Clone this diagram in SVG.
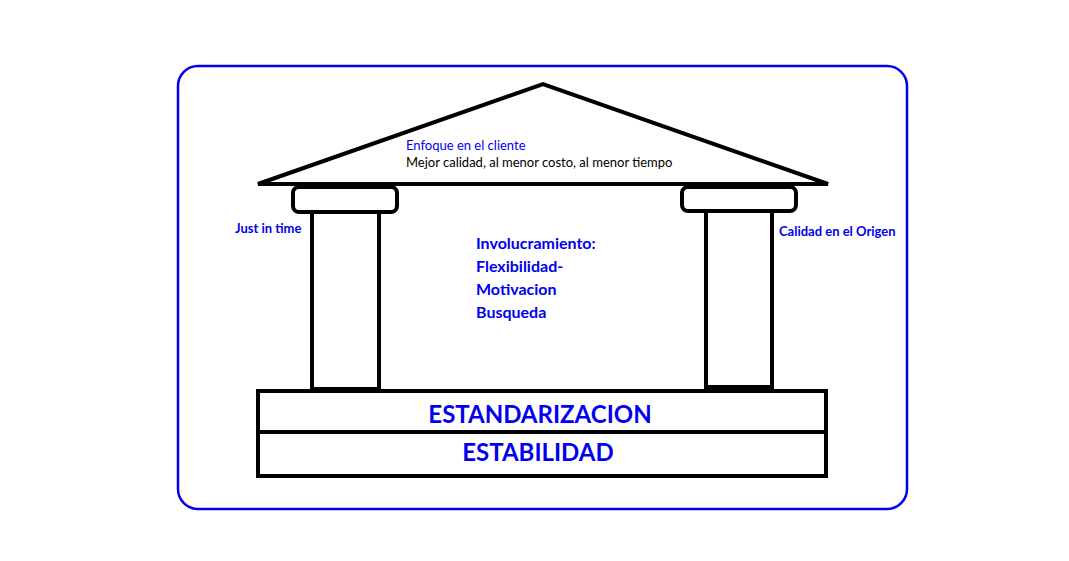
<svg xmlns="http://www.w3.org/2000/svg" width="1069" height="561" viewBox="0 0 1069 561">
<style>
.s{fill:none;stroke:#000;stroke-width:4}
.b{fill:#0000ee;font-family:Lato,"Liberation Sans",sans-serif}
.bb{fill:#0000ee;font-family:Lato,"Liberation Sans",sans-serif;font-weight:bold}
</style>
<rect width="1069" height="561" fill="#fff"/>
<g id="frame"><rect x="178" y="66" width="729" height="443" rx="20" fill="none" stroke="#0000ee" stroke-width="2.5"/></g>
<g id="roof"><polygon class="s" points="258,184 543,84 828,184"/>
<text class="b" x="406" y="150" font-size="13">Enfoque en el cliente</text>
<text x="406" y="167" font-size="13" fill="#000" font-family="Lato,'Liberation Sans',sans-serif">Mejor calidad, al menor costo, al menor tiempo</text></g>
<g id="left-pillar"><rect class="s" x="293" y="187" width="104" height="25" rx="6"/><rect class="s" x="312" y="212" width="67" height="177"/>
<text class="bb" x="235" y="233" font-size="13">Just in time</text></g>
<g id="right-pillar"><rect class="s" x="682" y="187" width="114" height="24" rx="6"/><rect class="s" x="706" y="211" width="66" height="176"/>
<text class="bb" x="779" y="236" font-size="13">Calidad en el Origen</text></g>
<g id="center"><text class="bb" font-size="16"><tspan x="476" y="249">Involucramiento:</tspan><tspan x="476" y="272">Flexibilidad-</tspan><tspan x="476" y="295">Motivacion</tspan><tspan x="476" y="318">Busqueda</tspan></text></g>
<g id="base"><rect class="s" x="258" y="391" width="568" height="85"/><line class="s" x1="258" y1="432" x2="826" y2="432"/>
<text class="bb" x="540" y="423" font-size="24" text-anchor="middle">ESTANDARIZACION</text>
<text class="bb" x="538" y="461" font-size="24" text-anchor="middle">ESTABILIDAD</text></g>
<g id="connectors"/>
</svg>
